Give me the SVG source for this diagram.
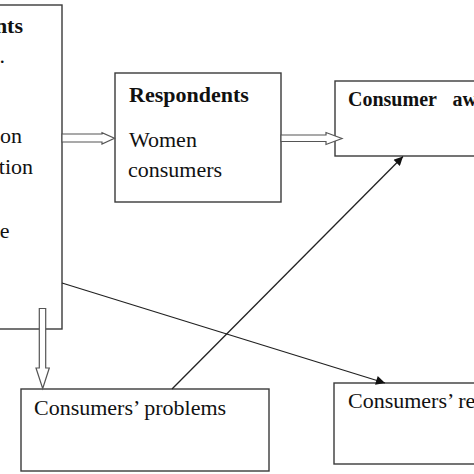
<svg xmlns="http://www.w3.org/2000/svg" width="474" height="474" viewBox="0 0 474 474">
<style>
.box{fill:#fff;stroke:#3a3a3a;stroke-width:1.4}
.t{font-family:"Liberation Serif","Times New Roman",serif;font-size:22px;fill:#111}
.b{font-weight:bold}
.hollow{fill:#fff;stroke:#555;stroke-width:1.2;stroke-linejoin:miter}
.ln{stroke:#222;stroke-width:1.3;fill:none}
</style>
<defs>
<marker id="ah" viewBox="0 0 10 10" refX="10" refY="5" markerWidth="11" markerHeight="9" markerUnits="userSpaceOnUse" orient="auto">
<path d="M0,0 L10,5 L0,10 Z" fill="#111"/>
</marker>
</defs>
<rect width="474" height="474" fill="#fff"/>
<g id="variables">
<rect class="box" x="-10" y="5" width="72" height="324"/>
<text class="t b" x="23" y="33" text-anchor="end">nts</text>
<text class="t" x="5" y="63" text-anchor="end">.</text>
<text class="t" x="22" y="143" text-anchor="end">on</text>
<text class="t" x="33" y="174" text-anchor="end">tion</text>
<text class="t" x="9.5" y="238" text-anchor="end">e</text>
</g>
<g id="respondents">
<rect class="box" x="115" y="73" width="166" height="129"/>
<text class="t b" x="129" y="102">Respondents</text>
<text class="t" x="129" y="147">Women</text>
<text class="t" x="128" y="177">consumers</text>
</g>
<g id="awareness">
<rect class="box" x="335" y="81" width="160" height="75"/>
<text class="t b" x="348" y="106" style="font-size:20px;word-spacing:11px">Consumer aw</text>
</g>
<g id="problems">
<rect class="box" x="21" y="389" width="248" height="82"/>
<text class="t" x="34" y="415">Consumers’ problems</text>
</g>
<g id="redressal">
<rect class="box" x="334" y="383" width="160" height="81"/>
<text class="t" x="348" y="408">Consumers’ re</text>
</g>
<g id="connectors">
<polygon class="hollow" points="62,134 102,134 102,132.7 114.5,138.3 102,144 102,142 62,142"/>
<polygon class="hollow" points="281,135 326,135 326,132.5 342,138.5 326,144.5 326,141.5 281,141.5"/>
<polygon class="hollow" points="39.3,308.5 45.7,308.5 45.7,368 49.3,368 42.7,388.5 36,368 39.3,368"/>
<line class="ln" x1="62" y1="283" x2="385" y2="383" marker-end="url(#ah)"/>
<line class="ln" x1="172" y1="389" x2="403" y2="156.5" marker-end="url(#ah)"/>
</g>
</svg>
